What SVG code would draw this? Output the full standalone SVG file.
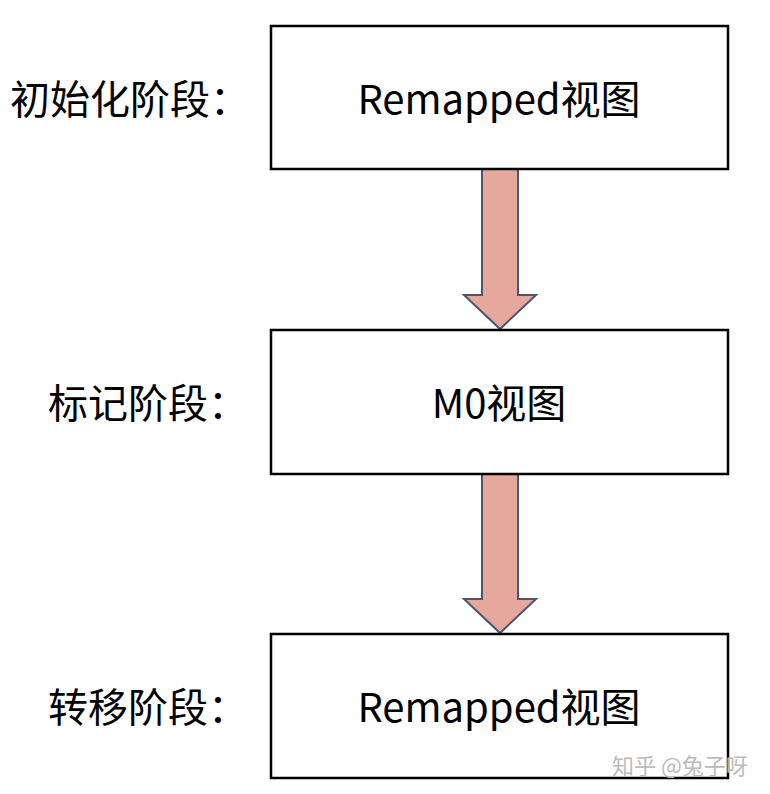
<svg xmlns="http://www.w3.org/2000/svg" width="770" height="794" viewBox="0 0 770 794">
<style>
.box{fill:#fff;stroke:#000;stroke-width:2.5}
.t{font-family:"Noto Sans CJK SC","Noto Sans",sans-serif;font-size:40px;fill:#000}
.arr{fill:#e6a89c;stroke:#4a5578;stroke-width:2}
</style>
<rect width="770" height="794" fill="#fff"/>
<g id="connectors">
<polygon class="arr" points="482,169 518,169 518,295 536,295 500,329 464,295 482,295"/>
<polygon class="arr" points="482,474 518,474 518,599 536,599 500,633 464,599 482,599"/>
</g>
<g id="n1"><rect class="box" x="271" y="26" width="457" height="143"/><text class="t" x="499" y="114" text-anchor="middle">Remapped视图</text></g>
<g id="n2"><rect class="box" x="271" y="330" width="457" height="144"/><text class="t" x="499" y="418" text-anchor="middle">M0视图</text></g>
<g id="n3"><rect class="box" x="271" y="634" width="457" height="144"/><text class="t" x="499" y="722" text-anchor="middle">Remapped视图</text></g>
<g id="labels">
<text class="t" x="10" y="114">初始化阶段：</text>
<text class="t" x="48" y="418">标记阶段：</text>
<text class="t" x="48" y="722">转移阶段：</text>
</g>
<text x="612" y="774" font-family="Noto Sans CJK SC,sans-serif" font-size="22" fill="#bbb">知乎 @兔子呀</text>
</svg>
